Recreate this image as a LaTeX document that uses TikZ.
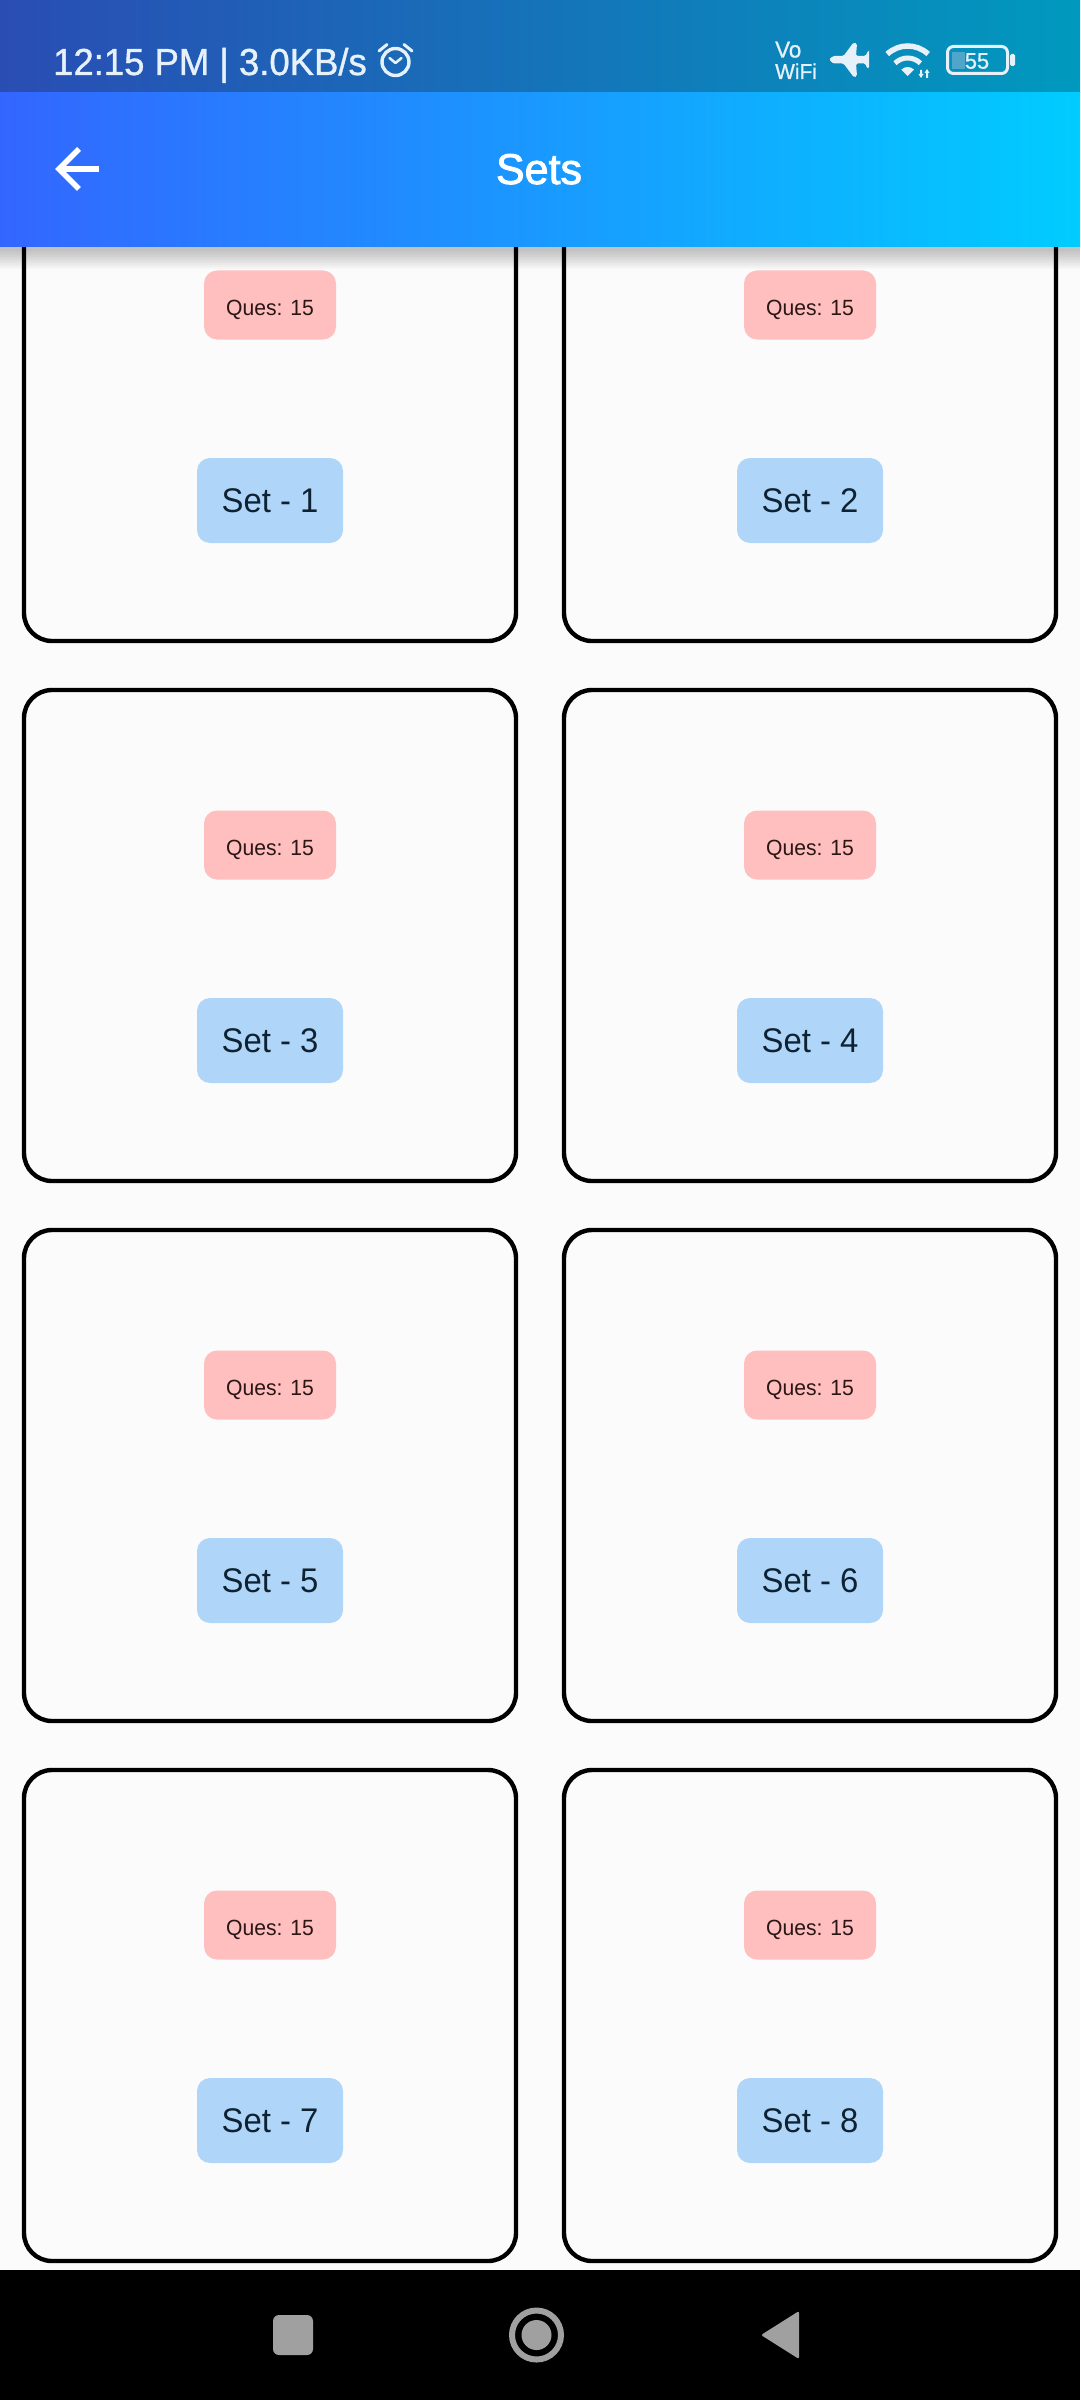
\documentclass[tikz,border=0pt]{standalone}
\usepackage{fontspec}
\setmainfont{Liberation Sans}
\newfontfamily\statfont[FakeBold=1.0,FakeStretch=0.97]{Liberation Sans}
\newfontfamily\titlefont[FakeBold=2.0]{Liberation Sans}
\newfontfamily\labfont[FakeStretch=0.96]{Liberation Sans}
\definecolor{bgc}{HTML}{FBFBFB}
\definecolor{pinkc}{HTML}{FFBFBF}
\definecolor{bluec}{HTML}{AFD6F8}
\definecolor{pinkt}{HTML}{2B1616}
\definecolor{bluet}{HTML}{0E2233}
\definecolor{navc}{HTML}{A0A0A0}
\definecolor{statc}{HTML}{E6F1FA}
\tikzset{
  card/.style={draw=black,line width=4.4pt,rounded corners=28pt,minimum width=492pt,minimum height=491pt,inner sep=0pt,fill=bgc},
  quesbox/.style={fill=pinkc,rounded corners=13pt,minimum width=132pt,minimum height=69pt,inner sep=0pt,text=pinkt,
     font=\labfont\fontsize{22}{23}\selectfont,text height=21.5pt,text depth=0pt},
  setbox/.style={fill=bluec,rounded corners=13pt,minimum width=146pt,minimum height=85pt,inner sep=0pt,text=bluet,
     font=\labfont\fontsize{34.2}{35}\selectfont,text height=24.5pt,text depth=0pt},
  stat/.style={text=statc,inner sep=0pt,font=\statfont},
  icon/.style={draw=statc,line cap=round,line join=round},
  iconf/.style={fill=statc},
  navf/.style={fill=navc}
}
\begin{document}
\begin{tikzpicture}[x=1pt,y=-1pt]
\useasboundingbox (0,0) rectangle (1080,2400);
\fill[bgc] (0,0) rectangle (1080,2400);
% cards
\foreach \n/\cx/\cy in {1/270/395.5, 2/810/395.5, 3/270/935.5, 4/810/935.5, 5/270/1475.5, 6/810/1475.5, 7/270/2015.5, 8/810/2015.5}{
  \node[card] (card\n) at (\cx,\cy) {};
  \node[quesbox] (ques\n) at (\cx,\cy-90.5) {Ques: 15};
  \node[setbox] (set\n) at (\cx,\cy+105) {Set - \n};
}
% app bar shadow
\foreach \h in {4,6,...,22}{ \fill[black,opacity=.022] (0,247) rectangle (1080,247+\h); }
% status bar and app bar
\path[left color={rgb,255:red,42;green,77;blue,180},right color={rgb,255:red,0;green,153;blue,190}] (0,0) rectangle (1080,93);
\path[left color={rgb,255:red,51;green,102;blue,255},right color={rgb,255:red,0;green,204;blue,255}] (0,93) rectangle (1080,247);
% status text
\node[stat,anchor=base west] (clock) at (53,75) {\fontsize{37.6}{40}\selectfont 12:15 PM | 3.0KB/s};
% alarm icon
\node[draw=statc,line width=3.4pt,circle,minimum size=27pt,inner sep=0pt] (alarm) at (395.5,62) {};
\draw[icon,line width=2.6pt] (389.5,58) -- (395.5,63) -- (401.5,58);
\draw[icon,line width=3pt] (379,51) -- (387,44.5);
\draw[icon,line width=3pt] (412,51) -- (404,44.5);
% back arrow
\coordinate (tip) at (59,169);
\coordinate (tail) at (99,169);
\coordinate (armA) at (79,149);
\coordinate (armB) at (79,189);
\draw[white,line width=5.5pt] (tip) -- (tail);
\draw[white,line width=5.5pt,line join=miter] (armA) -- (tip) -- (armB);
% title
\node[text=white,font=\titlefont\fontsize{43}{44}\selectfont,inner sep=0pt,anchor=base] (title) at (539,184) {Sets};
% vowifi
\node[stat,anchor=base west] (vo) at (775,57.5) {\fontsize{23}{23}\selectfont Vo};
\node[stat,anchor=base west] (wifi) at (775,79) {\fontsize{21.5}{22}\selectfont WiFi};
% plane
\fill[iconf,rounded corners=1.5pt] (829,59.5) -- (833,56) -- (843.5,56) -- (853.5,42.5) -- (857,43.5) -- (856,56) -- (865.5,56) -- (868,51) -- (869,51) -- (869,68.5) -- (867,68.5) -- (865.5,63.5) -- (856,63.5) -- (857,76) -- (854,77.5) -- (843.5,63.5) -- (833,63.5) -- cycle;
% wifi
\coordinate (wc) at (907.7,76);
\draw[statc,line width=5.5pt] (wc) ++(47:30pt) arc[start angle=47,end angle=133,radius=30pt];
\draw[statc,line width=5pt] (wc) ++(45:18pt) arc[start angle=45,end angle=135,radius=18pt];
\fill[iconf] (wc) -- ++(45:9pt) arc[start angle=45,end angle=135,radius=9pt] -- cycle;
\fill[iconf] (920,70) -- (922,70) -- (922,74) -- (923.5,74) -- (921,78) -- (918.5,74) -- (920,74) -- cycle;
\fill[iconf] (926,78) -- (928,78) -- (928,73) -- (929.5,73) -- (927,69) -- (924.5,73) -- (926,73) -- cycle;
% battery
\fill[fill={rgb,255:red,80;green,165;blue,203}] (952,52) rectangle (965,69);
\draw[statc,line width=3pt,rounded corners=6pt] (947.5,46.5) rectangle (1007.5,73.5);
\fill[iconf,rounded corners=1.5pt] (1010,54) rectangle (1015,66);
\node[stat] (batt) at (977,61) {\fontsize{22.5}{23}\selectfont 55};
% nav bar
\fill[black] (0,2270) rectangle (1080,2400);
\fill[navf,rounded corners=6pt] (273,2315) rectangle (313,2355);
\node[draw=navc,line width=6pt,circle,minimum size=49pt,inner sep=0pt] (navring) at (536.5,2335) {};
\node[fill=navc,circle,minimum size=30pt,inner sep=0pt] (navdot) at (536.5,2335) {};
\fill[navf,rounded corners=2pt] (761,2335) -- (799,2311) -- (799,2359) -- cycle;
\end{tikzpicture}
\end{document}
